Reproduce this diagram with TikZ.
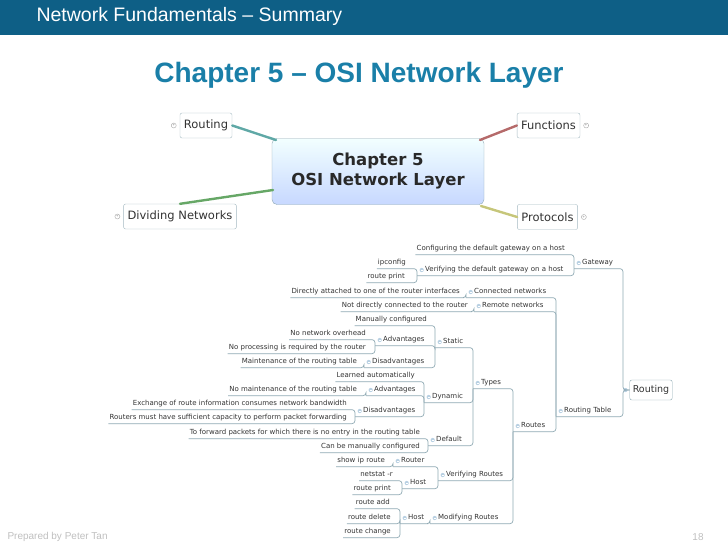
\documentclass[tikz,border=0pt]{standalone}
\usepackage{fontspec}
\setmainfont{Liberation Sans}
\newfontfamily\dv{DejaVu Sans}
\usetikzlibrary{shadings}
\definecolor{hdr}{HTML}{0E5F86}
\definecolor{ttl}{HTML}{1A7FA8}
\definecolor{ln}{HTML}{8FA9B3}
\definecolor{tx}{HTML}{333333}
\definecolor{ic}{HTML}{B8D0E2}
\definecolor{b1}{HTML}{5FA8A6}
\definecolor{b2}{HTML}{B56A6A}
\definecolor{b3}{HTML}{66A766}
\definecolor{b4}{HTML}{C6C67A}
\begin{document}
\begin{tikzpicture}[x=1pt,y=-1pt,
  t/.style={font=\dv\fontsize{7}{8}\selectfont, text=tx, inner xsep=1pt, inner ysep=2.2pt, text height=5pt, text depth=1.5pt, anchor=east},
  p/.style={t, anchor=west, inner xsep=1pt, execute at begin node={\hspace{7pt}},
    path picture={\fill[ic] ([xshift=4.5pt]path picture bounding box.west) circle (2.1pt);
      \draw[white,line width=0.5pt] ([xshift=3.3pt]path picture bounding box.west) -- ([xshift=5.7pt]path picture bounding box.west);}},
  c/.style={draw=ln, line width=0.7pt, rounded corners=3pt},
  box/.style={draw=ln!80, fill=white, rounded corners=2pt, font=\dv\fontsize{11.5}{13}\selectfont, text=tx, inner sep=4pt, minimum height=25pt},
  plus/.style={circle, draw=gray!70, fill=white, inner sep=0pt, minimum size=5pt, font=\fontsize{4}{4}\selectfont, text=gray},
  br/.style={line width=2.4pt, line cap=round}
]
\useasboundingbox (0,0) rectangle (728,546);
\fill[hdr] (0,0) rectangle (728,35);
\node[anchor=west, text=white, font=\fontsize{19.5}{22}\selectfont] (hd) at (33,16) {Network Fundamentals – Summary};
\node[text=ttl, font=\bfseries\fontsize{28}{32}\selectfont] (tt) at (359,75) {Chapter 5 – OSI Network Layer};
\node[anchor=west, text=gray!50, font=\fontsize{10}{11}\selectfont] (ft) at (4,537) {Prepared by Peter Tan};
\node[text=gray!50, font=\fontsize{10}{11}\selectfont] (pg) at (698,537) {18};

% top mind map
\node[draw=ln, rounded corners=5pt, top color=cyan!5, bottom color=cyan!30!blue!22, minimum width=212pt, minimum height=66pt, font=\dv\bfseries\fontsize{16.5}{20}\selectfont, text=tx!80!black, align=center] (ctr) at (378,171.5) {Chapter 5\\OSI Network Layer};
\node[box] (rt) at (206,125.5) {Routing};
\node[box] (fn) at (548.5,125.5) {Functions};
\node[box] (dn) at (180,216.5) {Dividing Networks};
\node[box] (pr) at (547.5,217) {Protocols};
\begin{scope}[on background layer/.style={}]
\draw[br, b1] (rt.east) -- (276,140);
\draw[br, b2] (fn.west) -- (480,140);
\draw[br, b3] (dn.north) -- (273,190);
\draw[br, b4] (pr.west) -- (481,206);
\end{scope}
\node[plus] (p1) at (rt.west) [xshift=-6pt] {+};
\node[plus] (p2) at (fn.east) [xshift=6pt] {+};
\node[plus] (p3) at (dn.west) [xshift=-6pt] {+};
\node[plus] (p4) at (pr.east) [xshift=6pt] {+};

% Routing tree
\node[draw=ln, rounded corners=2pt, font=\dv\fontsize{9.5}{11}\selectfont, text=tx, minimum height=20pt, inner xsep=3pt] (R) at (651,390) {Routing};
\fill[ic] (625.5,390) circle (2.1pt);

\node[p] (gw) at (574,263) {Gateway};
\node[t] (cfg) at (566,249) {Configuring the default gateway on a host};
\node[p] (vgw) at (417,270) {Verifying the default gateway on a host};
\node[t] (ipc) at (407,263) {ipconfig};
\node[t] (rp1) at (406,277) {route print};
\node[p] (cn) at (466,292) {Connected networks};
\node[t] (dir) at (461,292) {Directly attached to one of the router interfaces};
\node[p] (rn) at (474,306) {Remote networks};
\node[t] (nd) at (469,306) {Not directly connected to the router};
\node[p] (rtb) at (556,411) {Routing Table};
\node[p] (rts) at (513,426) {Routes};
\node[p] (typ) at (473,383) {Types};
\node[p] (st) at (435,342) {Static};
\node[t] (man) at (428,320) {Manually configured};
\node[p] (as) at (375,340) {Advantages};
\node[t] (nno) at (367,334) {No network overhead};
\node[t] (npr) at (367,348) {No processing is required by the router};
\node[p] (ds) at (364,362) {Disadvantages};
\node[t] (mnt) at (358,362) {Maintenance of the routing table};
\node[p] (dy) at (424,397) {Dynamic};
\node[t] (lrn) at (416,376) {Learned automatically};
\node[p] (ad) at (366,390) {Advantages};
\node[t] (nmt) at (358,390) {No maintenance of the routing table};
\node[p] (dd) at (355,411) {Disadvantages};
\node[t] (exc) at (348,404) {Exchange of route information consumes network bandwidth};
\node[t] (rms) at (348,418) {Routers must have sufficient capacity to perform packet forwarding};
\node[p] (df) at (428,440) {Default};
\node[t] (tof) at (421,433) {To forward packets for which there is no entry in the routing table};
\node[t] (cbm) at (421,447) {Can be manually configured};
\node[p] (vr) at (438,475) {Verifying Routes};
\node[p] (rtr) at (393,461) {Router};
\node[t] (sir) at (386,461) {show ip route};
\node[p] (hv) at (402,483) {Host};
\node[t] (nst) at (394,475) {netstat -r};
\node[t] (rp2) at (392,489) {route print};
\node[p] (mr) at (430,518) {Modifying Routes};
\node[p] (hm) at (400,518) {Host};
\node[t] (rad) at (391,503) {route add};
\node[t] (rdl) at (392,518) {route delete};
\node[t] (rch) at (392,532) {route change};

\coordinate (rb) at (623,390);
\foreach \ch in {gw,rtb}
  \draw[c] (\ch.south west) -- (\ch.south east) -| (rb) -- (R.west);
\foreach \ch/\pa in {cfg/gw, vgw/gw, ipc/vgw, rp1/vgw, dir/cn, nd/rn,
  cn/rtb, rn/rtb, rts/rtb, typ/rts, vr/rts, mr/rts,
  st/typ, dy/typ, df/typ, man/st, as/st, ds/st, nno/as, npr/as, mnt/ds,
  lrn/dy, ad/dy, dd/dy, nmt/ad, exc/dd, rms/dd, tof/df, cbm/df,
  rtr/vr, hv/vr, sir/rtr, nst/hv, rp2/hv, hm/mr, rad/hm, rdl/hm, rch/hm}
  \draw[c] (\ch.south west) -- (\ch.south east) -| (\pa.south west);
\end{tikzpicture}
\end{document}
